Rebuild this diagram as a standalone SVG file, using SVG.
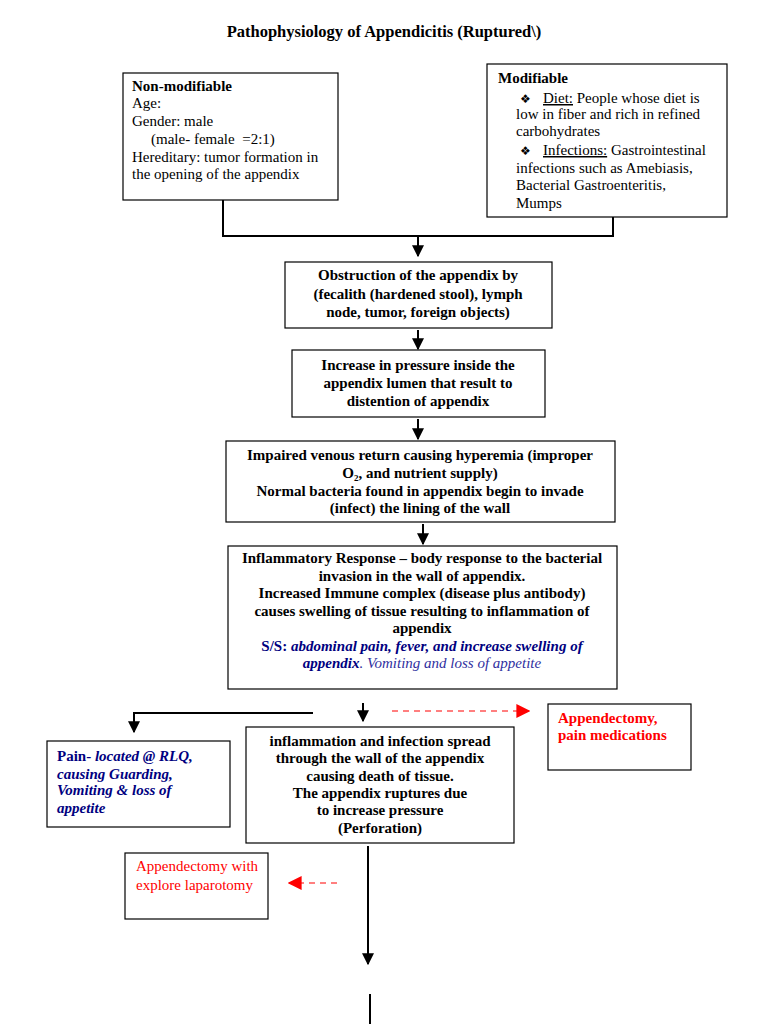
<svg xmlns="http://www.w3.org/2000/svg" width="768" height="1024" viewBox="0 0 768 1024">
<style>
  .box { fill: #ffffff; stroke: #000000; stroke-width: 1.2; }
  .t { font-family: "Liberation Serif", "Times New Roman", serif; font-size: 15px; fill: #000; }
  .b { font-weight: bold; }
  .c { text-anchor: middle; }
  .blue { fill: #000080; }
  .red { fill: #ff0000; }
  .con { stroke: #000; stroke-width: 2; fill: none; }
  .dash { stroke: #ff0000; stroke-width: 1.2; fill: none; stroke-dasharray: 6 5; }
</style>
<defs>
  <marker id="ahb" viewBox="0 0 10 10" refX="9" refY="5" markerWidth="12" markerHeight="12" markerUnits="userSpaceOnUse" orient="auto">
    <path d="M0,0 L10,5 L0,10 z" fill="#000"/>
  </marker>
  <marker id="ahr" viewBox="0 0 10 10" refX="9" refY="5" markerWidth="14" markerHeight="14" markerUnits="userSpaceOnUse" orient="auto">
    <path d="M0,0 L10,5 L0,10 z" fill="#ff0000"/>
  </marker>
</defs>
<rect width="768" height="1024" fill="#fff"/>

<text class="t b c" x="384" y="37" style="font-size:16.5px">Pathophysiology of Appendicitis (Ruptured\)</text>

<g id="connectors">
  <polyline class="con" points="223,195 223,236 613,236 613,213"/>
  <line class="con" x1="418" y1="236" x2="418" y2="256" marker-end="url(#ahb)"/>
  <line class="con" x1="418" y1="330" x2="418" y2="349" marker-end="url(#ahb)"/>
  <line class="con" x1="418" y1="419" x2="418" y2="439" marker-end="url(#ahb)"/>
  <line class="con" x1="423" y1="524" x2="423" y2="544" marker-end="url(#ahb)"/>
  <line class="con" x1="363" y1="703" x2="363" y2="721" marker-end="url(#ahb)"/>
  <polyline class="con" points="313,713 134,713 134,732" marker-end="url(#ahb)"/>
  <line class="dash" x1="392" y1="711" x2="529" y2="711" marker-end="url(#ahr)"/>
  <line class="dash" x1="337" y1="883" x2="289" y2="883" marker-end="url(#ahr)"/>
  <line class="con" x1="368" y1="846" x2="368" y2="964" marker-end="url(#ahb)"/>
  <line class="con" x1="370" y1="994" x2="370" y2="1024"/>
</g>

<g id="nonmodifiable">
  <rect class="box" x="123" y="73" width="215" height="127"/>
  <text class="t b" x="132" y="91">Non-modifiable</text>
  <text class="t" x="132" y="108">Age:</text>
  <text class="t" x="132" y="126">Gender: male</text>
  <text class="t" x="151" y="144">(male- female &#160;=2:1)</text>
  <text class="t" x="132" y="162">Hereditary: tumor formation in</text>
  <text class="t" x="132" y="179">the opening of the appendix</text>
</g>

<g id="modifiable">
  <rect class="box" x="487" y="64" width="240" height="153"/>
  <text class="t b" x="498" y="83">Modifiable</text>
  <text class="t" x="520" y="103"><tspan style="font-family:'DejaVu Sans',sans-serif;font-size:12px">❖</tspan><tspan x="543" text-decoration="underline">Diet:</tspan> People whose diet is</text>
  <text class="t" x="516" y="119">low in fiber and rich in refined</text>
  <text class="t" x="516" y="136">carbohydrates</text>
  <text class="t" x="520" y="155"><tspan style="font-family:'DejaVu Sans',sans-serif;font-size:12px">❖</tspan><tspan x="543" text-decoration="underline">Infections:</tspan> Gastrointestinal</text>
  <text class="t" x="516" y="173">infections such as Amebiasis,</text>
  <text class="t" x="516" y="190">Bacterial Gastroenteritis,</text>
  <text class="t" x="516" y="208">Mumps</text>
</g>

<g id="obstruction">
  <rect class="box" x="285" y="262" width="267" height="66"/>
  <text class="t b c" x="418" y="280">Obstruction of the appendix by</text>
  <text class="t b c" x="418" y="299">(fecalith (hardened stool), lymph</text>
  <text class="t b c" x="418" y="317">node, tumor, foreign objects)</text>
</g>

<g id="pressure">
  <rect class="box" x="292" y="350" width="253" height="67"/>
  <text class="t b c" x="418" y="370">Increase in pressure inside the</text>
  <text class="t b c" x="418" y="388">appendix lumen that result to</text>
  <text class="t b c" x="418" y="406">distention of appendix</text>
</g>

<g id="venous">
  <rect class="box" x="226" y="441" width="389" height="81"/>
  <text class="t b c" x="420" y="460">Impaired venous return causing hyperemia (improper</text>
  <text class="t b c" x="420" y="478">O₂, and nutrient supply)</text>
  <text class="t b c" x="420" y="496">Normal bacteria found in appendix begin to invade</text>
  <text class="t b c" x="420" y="513">(infect) the lining of the wall</text>
</g>

<g id="inflammatory">
  <rect class="box" x="228" y="546" width="389" height="143"/>
  <text class="t b c" x="422" y="563">Inflammatory Response – body response to the bacterial</text>
  <text class="t b c" x="422" y="581">invasion in the wall of appendix.</text>
  <text class="t b c" x="422" y="598">Increased Immune complex (disease plus antibody)</text>
  <text class="t b c" x="422" y="616">causes swelling of tissue resulting to inflammation of</text>
  <text class="t b c" x="422" y="633">appendix</text>
  <text class="t b c blue" x="422" y="651">S/S: <tspan font-style="italic">abdominal pain, fever, and increase swelling of</tspan></text>
  <text class="t c blue" x="422" y="668"><tspan font-weight="bold" font-style="italic">appendix</tspan><tspan font-style="italic" fill="#3030a0">. Vomiting and loss of appetite</tspan></text>
</g>

<g id="pain">
  <rect class="box" x="47" y="741" width="183" height="86"/>
  <text class="t b blue" x="57" y="761">Pain- <tspan font-style="italic">located @ RLQ,</tspan></text>
  <text class="t b blue" x="57" y="779" font-style="italic">causing Guarding,</text>
  <text class="t b blue" x="57" y="795" font-style="italic">Vomiting &amp; loss of</text>
  <text class="t b blue" x="57" y="813" font-style="italic">appetite</text>
</g>

<g id="spread">
  <rect class="box" x="246" y="727" width="268" height="116"/>
  <text class="t b c" x="380" y="746">inflammation and infection spread</text>
  <text class="t b c" x="380" y="763">through the wall of the appendix</text>
  <text class="t b c" x="380" y="781">causing death of tissue.</text>
  <text class="t b c" x="380" y="798">The appendix ruptures due</text>
  <text class="t b c" x="380" y="815">to increase pressure</text>
  <text class="t b c" x="380" y="833">(Perforation)</text>
</g>

<g id="appendectomy">
  <rect class="box" x="548" y="704" width="143" height="66"/>
  <text class="t b red" x="558" y="723">Appendectomy,</text>
  <text class="t b red" x="558" y="740">pain medications</text>
</g>

<g id="laparotomy">
  <rect class="box" x="125" y="853" width="143" height="66"/>
  <text class="t red" x="136" y="871">Appendectomy with</text>
  <text class="t red" x="136" y="890">explore laparotomy</text>
</g>
</svg>
